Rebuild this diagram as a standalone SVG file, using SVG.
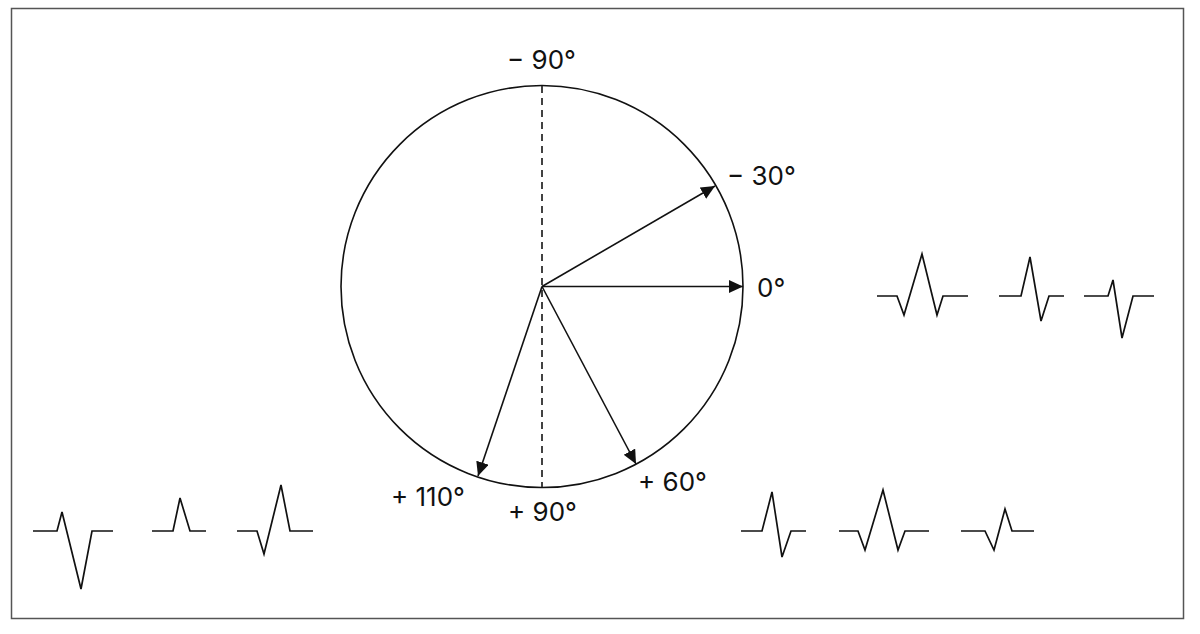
<svg xmlns="http://www.w3.org/2000/svg" width="1200" height="634" viewBox="0 0 1200 634">
<style>
.frame{fill:#fff;stroke:#555;stroke-width:1.5}
.circ{fill:none;stroke:#111;stroke-width:1.6}
.dash{stroke:#222;stroke-width:1.7;stroke-dasharray:7 5;fill:none}
.vec{stroke:#111;stroke-width:1.6;fill:none;marker-end:url(#ah)}
.wave{fill:none;stroke:#111;stroke-width:1.7;stroke-linejoin:miter}
.lbl{font-family:Inter,"Liberation Sans",sans-serif;font-size:26px;fill:#111}
</style>
<defs>
<marker id="ah" markerUnits="userSpaceOnUse" markerWidth="15" markerHeight="14" refX="14" refY="6.5" orient="auto">
<path d="M0,0 L14,6.5 L0,13 z" fill="#111"/>
</marker>
</defs>
<rect class="frame" x="11.5" y="8.5" width="1172" height="610"/>
<g id="axis-circle">
<circle class="circ" cx="542" cy="286.5" r="201"/>
<line class="dash" x1="542" y1="86" x2="542" y2="487"/>
</g>
<g id="connectors">
<line class="vec" x1="542" y1="286.5" x2="715" y2="186"/>
<line class="vec" x1="542" y1="286.5" x2="743" y2="286.5"/>
<line class="vec" x1="542" y1="286.5" x2="636" y2="464"/>
<line class="vec" x1="542" y1="286.5" x2="478" y2="476"/>
</g>
<g id="labels">
<text class="lbl" x="507" y="69">− 90°</text>
<text class="lbl" x="727" y="185">− 30°</text>
<text class="lbl" x="757" y="297">0°</text>
<text class="lbl" x="638" y="491">+ 60°</text>
<text class="lbl" x="508" y="521">+ 90°</text>
<text class="lbl" x="391" y="506">+ 110°</text>
</g>
<g id="waves-left">
<polyline class="wave" points="33,531 57,531 62,512 81,589 92,531 113,531"/>
<polyline class="wave" points="152,531 173,531 180,498 190,531 206,531"/>
<polyline class="wave" points="237,531 257,531 264,554 281,485 290,531 313,531"/>
</g>
<g id="waves-bottom-right">
<polyline class="wave" points="741,531 762,531 772,492 782,557 791,531 806,531"/>
<polyline class="wave" points="839,531 858,531 865,550 883,490 898,550 905,531 929,531"/>
<polyline class="wave" points="961,531 985,531 994,550 1005,509 1012,531 1034,531"/>
</g>
<g id="waves-right">
<polyline class="wave" points="877,296 897,296 904,315 922,254 937,315 943,296 968,296"/>
<polyline class="wave" points="999,296 1021,296 1030,257 1041,321 1049,296 1064,296"/>
<polyline class="wave" points="1084,296 1108,296 1113,280 1122,338 1133,296 1154,296"/>
</g>
</svg>
